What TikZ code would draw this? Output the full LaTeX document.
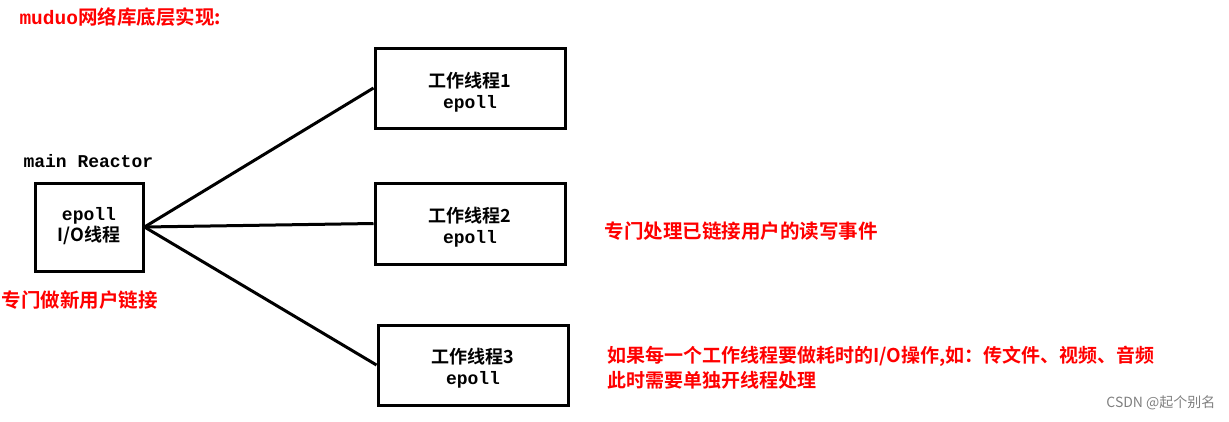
\documentclass[tikz,border=0pt]{standalone}
\usepackage{fontspec}
\setmainfont{Noto Sans CJK SC}[BoldFont={Noto Sans CJK SC Bold}]
\newfontfamily\monof{Liberation Mono}[BoldFont={* Bold}]
\begin{document}
\begin{tikzpicture}[x=1pt,y=-1pt,
  box/.style={draw,line width=3pt},
  lbl/.style={font=\fontsize{18}{21}\selectfont\bfseries,align=center},
  red/.style={text=red,anchor=west,font=\fontsize{19.5}{25}\selectfont\bfseries},
  conn/.style={line width=3pt}]
\useasboundingbox (0,0) rectangle (1229,421);
\node[box,minimum width=108pt,minimum height=88pt] (m) at (89,227) {};
\node[lbl] at (89,226) {{\monof epoll}\\I/O线程};
\node[box,minimum width=190pt,minimum height=80pt] (w1) at (470,88) {};
\node[lbl] at (470,92) {工作线程1\\{\monof epoll}};
\node[box,minimum width=190pt,minimum height=81pt] (w2) at (470,223.5) {};
\node[lbl] at (470,227) {工作线程2\\{\monof epoll}};
\node[box,minimum width=190pt,minimum height=80pt] (w3) at (473,365) {};
\node[lbl] at (473,368) {工作线程3\\{\monof epoll}};
\draw[conn] (m.east) -- (w1.west);
\draw[conn] (m.east) -- (w2.west);
\draw[conn] (m.east) -- (w3.west);
\node[anchor=west,font=\fontsize{18}{21}\selectfont\monof\bfseries] (mr) at (20,161) {main Reactor};
\node[red] (t0) at (16,17) {{\monof muduo}网络库底层实现:};
\node[red] (t1) at (-2,300) {专门做新用户链接};
\node[red] (t2) at (601,231) {专门处理已链接用户的读写事件};
\node[red,align=left,font=\fontsize{19}{25}\selectfont\bfseries] (t3) at (604,368) {如果每一个工作线程要做耗时的I/O操作,如：传文件、视频、音频\\此时需要单独开线程处理};
\node[anchor=east,text=gray,font=\fontsize{14}{16}\selectfont] (wm) at (1219,403) {CSDN @起个别名};
\end{tikzpicture}
\end{document}
